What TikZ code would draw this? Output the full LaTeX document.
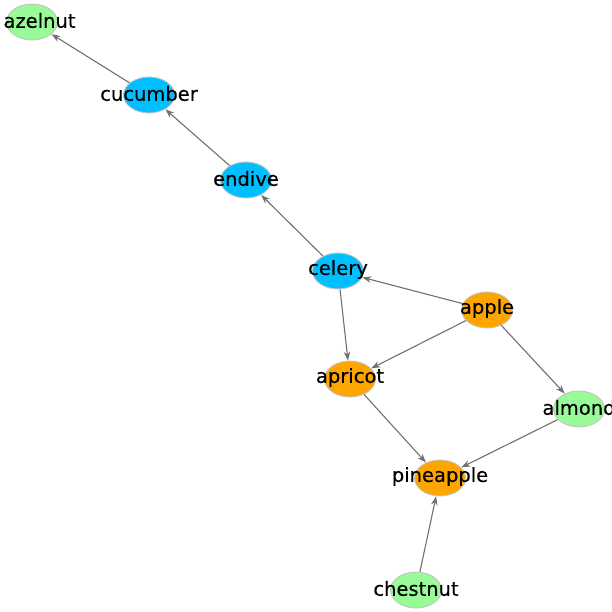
\documentclass[tikz,border=0pt]{standalone}
\usepackage{fontspec}
\setmainfont{DejaVu Sans}[FakeBold=0.3]
\usetikzlibrary{shapes.geometric,arrows.meta}
\definecolor{skyblue}{HTML}{00BFFF}
\definecolor{orangefill}{HTML}{FFA500}
\definecolor{palegreen}{HTML}{98FB98}
\definecolor{edgegray}{HTML}{707070}
\definecolor{rimgray}{HTML}{C4C4C4}
\tikzset{
  fruit/.style={ellipse,draw=rimgray,line width=0.9pt,minimum width=51pt,minimum height=36pt,inner sep=0pt},
  fruitname/.style={font=\fontsize{19.5}{20}\selectfont,text=black,yshift=1.5pt},
  blue/.style={fruit,fill=skyblue,label={[fruitname]center:#1}},
  orange/.style={fruit,fill=orangefill,label={[fruitname]center:#1}},
  green/.style={fruit,fill=palegreen,label={[fruitname]center:#1}},
  link/.style={draw=edgegray,line width=1.1pt,-{Stealth[length=9pt,width=6.5pt]}}
}
\begin{document}
\begin{tikzpicture}[x=1pt,y=-1pt]
\useasboundingbox (0,0) rectangle (612,612);
\clip (0,0) rectangle (612,612);
\node[fruit,fill=palegreen,label={[fruitname,xshift=7.5pt]center:azelnut}] (hazelnut) at (32,22) {};
\node[blue=cucumber] (cucumber) at (149,95) {};
\node[blue=endive] (endive) at (246,180) {};
\node[blue=celery] (celery) at (338,271) {};
\node[orange=apple] (apple) at (487,310) {};
\node[orange=apricot] (apricot) at (350,379) {};
\node[green=almond] (almond) at (579,409) {};
\node[orange=pineapple] (pineapple) at (440,478) {};
\node[green=chestnut] (chestnut) at (416,590) {};
\draw[link] (cucumber) -- (hazelnut);
\draw[link] (endive) -- (cucumber);
\draw[link] (celery) -- (endive);
\draw[link] (apple) -- (celery);
\draw[link] (apple) -- (apricot);
\draw[link] (celery) -- (apricot);
\draw[link] (apple) -- (almond);
\draw[link] (apricot) -- (pineapple);
\draw[link] (almond) -- (pineapple);
\draw[link] (chestnut) -- (pineapple);
\end{tikzpicture}
\end{document}
